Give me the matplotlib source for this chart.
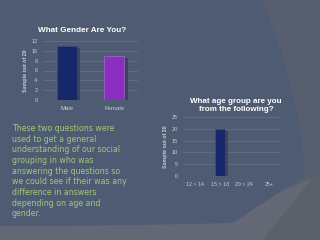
import matplotlib
matplotlib.use("Agg")
import matplotlib.pyplot as plt
from matplotlib.patches import PathPatch, Polygon
from matplotlib.path import Path
import matplotlib.patheffects as pe

plt.rcParams['font.family'] = ['Liberation Sans', 'DejaVu Sans']

gender_labels = ["Male", "Female"]
gender_counts = [11, 9]
gender_colors = ["#17286a", "#8a2fc0"]
gender_ticks = [0, 2, 4, 6, 8, 10, 12]

age_labels = ["12 > 14", "15 > 18", "20 > 24", "25+"]
age_counts = [0, 20, 0, 0]
age_ticks = [0, 5, 10, 15, 20, 25]

note = ("These two questions were\n"
        "used to get a general\n"
        "understanding of our social\n"
        "grouping in who was\n"
        "answering the questions so\n"
        "we could see if their was any\n"
        "difference in answers\n"
        "depending on age and\n"
        "gender.")

W, H = 320, 240
outer = "#646874"
fig = plt.figure(figsize=(W / 100, H / 100), dpi=100, facecolor=outer)

# slide background: blue panel with curved edges over grey
bgax = fig.add_axes([0, 0, 1, 1])
bgax.set_xlim(0, W)
bgax.set_ylim(H, 0)
bgax.axis("off")
bgax.add_patch(Polygon([[263, 240], [320, 168], [320, 240]], closed=True,
                       facecolor="#5c606b", edgecolor="none"))
panel_verts = [(0, 0), (320, 0),
               (320, 175),
               (255, 200), (235, 222),
               (120, 226), (0, 226),
               (0, 0)]
panel_codes = [Path.MOVETO, Path.LINETO,
               Path.LINETO,
               Path.CURVE3, Path.CURVE3,
               Path.CURVE3, Path.CURVE3,
               Path.CLOSEPOLY]
bgax.add_patch(PathPatch(Path(panel_verts, panel_codes), facecolor="#575e70",
                         edgecolor="none"))
inner_verts = [(0, 0), (262, 0),
               (300, 90), (305, 175),
               (250, 212), (232, 223),
               (120, 226), (0, 226),
               (0, 0)]
inner_codes = [Path.MOVETO, Path.LINETO,
               Path.CURVE3, Path.CURVE3,
               Path.CURVE3, Path.CURVE3,
               Path.CURVE3, Path.CURVE3,
               Path.CLOSEPOLY]
bgax.add_patch(PathPatch(Path(inner_verts, inner_codes), facecolor="#4f5b73",
                         edgecolor="none"))


def px_axes(x0, y0, x1, y1):
    return fig.add_axes([x0 / W, 1 - y1 / H, (x1 - x0) / W, (y1 - y0) / H])


tick_col = "#c8ccd6"
shadow = [pe.SimplePatchShadow(offset=(2.5, -1.5), shadow_rgbFace="#2c3445", alpha=0.6),
          pe.Normal()]


def style(ax, ticks):
    ax.set_facecolor("none")
    for s in ax.spines.values():
        s.set_visible(False)
    ax.set_yticks(ticks)
    ax.set_ylim(ticks[0], ticks[-1])
    ax.tick_params(length=0, labelsize=4, colors=tick_col, pad=4)
    ax.grid(axis="y", color="#66718a", linewidth=0.5)
    ax.set_axisbelow(True)


# gender chart
ax1 = px_axes(43, 41, 138, 100)
style(ax1, gender_ticks)
ax1.bar(range(len(gender_labels)), gender_counts, width=0.42,
        color=gender_colors, edgecolor=["#3b4d9a", "#b070dc"], linewidth=0.4,
        path_effects=shadow)
ax1.set_xlim(-0.5, len(gender_labels) - 0.5)
ax1.set_xticks(range(len(gender_labels)))
ax1.set_xticklabels(gender_labels)
ax1.tick_params(axis="x", labelsize=4.3, pad=4)
ax1.set_ylabel("Sample out of 20", fontsize=3.8, color=tick_col, labelpad=2,
               fontweight="bold")
fig.text(82 / W, 1 - 31 / H, "What Gender Are You?", fontsize=5.9,
         color="white", fontweight="bold", ha="center", va="center")

# age chart
ax2 = px_axes(183, 117, 281, 176)
style(ax2, age_ticks)
ax2.bar(range(len(age_labels)), age_counts, width=0.42, color="#17286a",
        edgecolor="#3b4d9a", linewidth=0.4, path_effects=shadow)
ax2.set_xlim(-0.5, len(age_labels) - 0.5)
ax2.set_xticks(range(len(age_labels)))
ax2.set_xticklabels(age_labels)
ax2.tick_params(axis="x", labelsize=3.8, pad=4)
ax2.set_ylabel("Sample out of 20", fontsize=3.8, color=tick_col, labelpad=2,
               fontweight="bold")
fig.text(236 / W, 1 - 105.5 / H, "What age group are you\nfrom the following?",
         fontsize=5.8, color="white", fontweight="bold", ha="center",
         va="center", linespacing=1.15)

fig.text(12 / W, 1 - 124 / H, note, fontsize=5.7, color="#9fc77c",
         va="top", ha="left", linespacing=1.24, family=["DejaVu Sans"])

fig.savefig("out.png", dpi=100, facecolor=outer)
